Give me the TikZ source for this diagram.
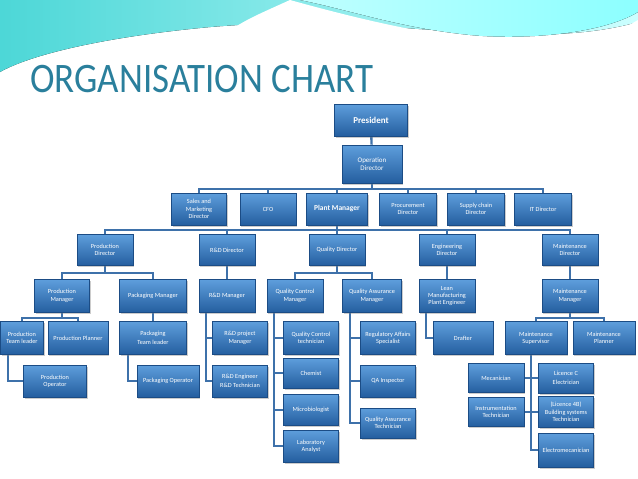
\documentclass[tikz,border=0pt]{standalone}
\usepackage{fontspec}
\usepackage{graphicx}
\setmainfont{Carlito}
\usetikzlibrary{shadows,backgrounds}
\definecolor{boxtop}{HTML}{5E9EDC}
\definecolor{boxbot}{HTML}{245E9F}
\definecolor{boxline}{HTML}{1B4C85}
\definecolor{linkc}{HTML}{3E71AA}
\definecolor{titlec}{HTML}{2A7F9C}
\tikzset{
  box/.style={draw=boxline, line width=0.8pt, top color=boxtop, bottom color=boxbot,
    text=white, align=center, inner sep=1pt, font=\fontsize{6.3}{7.3}\selectfont,
    drop shadow={shadow xshift=1pt, shadow yshift=-1.5pt, opacity=0.4}},
  link/.style={draw=linkc, line width=2.4pt}
}
\begin{document}
\begin{tikzpicture}[x=1pt,y=-1pt]
\useasboundingbox (0,0) rectangle (638,479);
% header waves
\fill[left color=cyan!55!teal!70, right color=cyan!20] (0,0) -- (638,0) -- (638,22)
  .. controls (520,55) and (380,10) .. (200,28) .. controls (100,38) and (30,55) .. (0,72) -- cycle;
\fill[white] (290,0) .. controls (380,25) and (470,45) .. (560,45) .. controls (600,42) .. (638,20) -- (638,40)
  .. controls (560,60) and (420,25) .. (230,30) .. controls (250,18) .. (290,0) -- cycle;
\fill[left color=cyan!25, right color=cyan!45] (300,0) -- (638,0) -- (638,12)
  .. controls (600,35) and (520,40) .. (470,35) .. controls (400,28) and (350,10) .. (300,0) -- cycle;
\node[text=titlec, font=\fontsize{42}{42}\selectfont, anchor=west, inner sep=0pt] (title) at (30,79) {\scalebox{0.88}[1]{ORGANISATION CHART}};
% top levels
\node[box, minimum width=73, minimum height=32, font=\fontsize{9}{10}\selectfont\bfseries] (pres) at (371,120) {President};
\node[box, minimum width=60, minimum height=38, font=\fontsize{7}{8}\selectfont] (opdir) at (372,164) {Operation\\Director};
\node[box, minimum width=55, minimum height=32] (sales) at (199,209) {Sales and\\Marketing\\Director};
\node[box, minimum width=56, minimum height=32] (cfo) at (268,209) {CFO};
\node[box, minimum width=61, minimum height=32, font=\fontsize{7.5}{8.5}\selectfont\bfseries] (plant) at (337,209) {Plant Manager};
\node[box, minimum width=57, minimum height=32] (proc) at (408,209) {Procurement\\Director};
\node[box, minimum width=57, minimum height=32] (supply) at (476,209) {Supply chain\\Director};
\node[box, minimum width=57, minimum height=32] (it) at (543,209) {IT Director};
% directors
\node[box, minimum width=56, minimum height=31] (proddir) at (105,250) {Production\\Director};
\node[box, minimum width=56, minimum height=31] (rddir) at (227,250) {R\&D Director};
\node[box, minimum width=56, minimum height=31] (qdir) at (337,250) {Quality Director};
\node[box, minimum width=56, minimum height=31] (engdir) at (447,250) {Engineering\\Director};
\node[box, minimum width=56, minimum height=31] (maintdir) at (570,250) {Maintenance\\Director};
% managers
\node[box, minimum width=55, minimum height=33] (prodmgr) at (62,296) {Production\\Manager};
\node[box, minimum width=67, minimum height=33] (packmgr) at (153,296) {Packaging Manager};
\node[box, minimum width=56, minimum height=33] (rdmgr) at (227,296) {R\&D Manager};
\node[box, minimum width=56, minimum height=33] (qcmgr) at (295,296) {Quality Control\\Manager};
\node[box, minimum width=59, minimum height=33] (qamgr) at (372,296) {Quality Assurance\\Manager};
\node[box, minimum width=56, minimum height=33] (lean) at (447,296) {Lean\\Manufacturing\\Plant Engineer};
\node[box, minimum width=56, minimum height=33] (maintmgr) at (570,296) {Maintenance\\Manager};
% third row
\node[box, minimum width=43, minimum height=33] (prodteam) at (22,338) {Production\\Team leader};
\node[box, minimum width=60, minimum height=33] (prodplan) at (78,338) {Production Planner};
\node[box, minimum width=67, minimum height=33] (packteam) at (153,338) {Packaging\\[2pt]Team leader};
\node[box, minimum width=55, minimum height=33] (rdproj) at (240,338) {R\&D project\\Manager};
\node[box, minimum width=55, minimum height=33] (qctech) at (311,338) {Quality Control\\technician};
\node[box, minimum width=55, minimum height=33] (reg) at (388,338) {Regulatory Affairs\\Specialist};
\node[box, minimum width=60, minimum height=33] (drafter) at (463,338) {Drafter};
\node[box, minimum width=62, minimum height=33] (msup) at (536,338) {Maintenance\\Supervisor};
\node[box, minimum width=62, minimum height=33] (mplan) at (604,338) {Maintenance\\Planner};
% lower rows
\node[box, minimum width=63, minimum height=32] (prodop) at (55,381) {Production\\Operator};
\node[box, minimum width=62, minimum height=32] (packop) at (168,381) {Packaging Operator};
\node[box, minimum width=55, minimum height=32] (rdeng) at (240,381) {R\&D Engineer\\[2pt]R\&D Technician};
\node[box, minimum width=55, minimum height=30] (chem) at (311,373) {Chemist};
\node[box, minimum width=55, minimum height=31] (micro) at (311,410) {Microbiologist};
\node[box, minimum width=55, minimum height=32] (lab) at (311,446) {Laboratory\\Analyst};
\node[box, minimum width=55, minimum height=32] (qainsp) at (388,381) {QA Inspector};
\node[box, minimum width=55, minimum height=30] (qatech) at (388,423) {Quality Assurance\\Technician};
\node[box, minimum width=56, minimum height=29] (mecan) at (496,378) {Mecanician};
\node[box, minimum width=55, minimum height=30] (elecc) at (566,378) {Licence C\\[2pt]Electrician};
\node[box, minimum width=56, minimum height=29] (instr) at (496,412) {Instrumentation\\Technician};
\node[box, minimum width=55, minimum height=31] (build) at (566,412) {(Licence 4B)\\Building systems\\Technician};
\node[box, minimum width=55, minimum height=34] (electro) at (566,450) {Electromecanician};
% connectors
\begin{scope}[on background layer]
\draw[link] (pres) -- (opdir);
\coordinate (busa) at (0,189);
\draw[link] (sales.north) |- (busa -| it.north) -- (it.north);
\foreach \n in {cfo,plant,proc,supply} \draw[link] (\n.north) -- (\n.north |- busa);
\draw[link] (opdir) -- (opdir |- busa);
\coordinate (busb) at (0,230);
\draw[link] (proddir.north) |- (busb -| maintdir.north) -- (maintdir.north);
\foreach \n in {rddir,qdir,engdir} \draw[link] (\n.north) -- (\n.north |- busb);
\draw[link] (plant) -- (plant |- busb);
\coordinate (busc) at (0,273);
\draw[link] (prodmgr.north) |- (busc -| packmgr.north) -- (packmgr.north);
\draw[link] (proddir) -- (proddir |- busc);
\draw[link] (qcmgr.north) |- (busc -| qamgr.north) -- (qamgr.north);
\draw[link] (qdir) -- (qdir |- busc);
\draw[link] (rddir) -- (rdmgr);
\draw[link] (engdir) -- (lean);
\draw[link] (maintdir) -- (maintmgr);
\coordinate (busd) at (0,318);
\draw[link] (prodteam.north) |- (busd -| prodplan.north) -- (prodplan.north);
\draw[link] (prodmgr) -- (prodmgr |- busd);
\draw[link] (msup.north) |- (busd -| mplan.north) -- (mplan.north);
\draw[link] (maintmgr) -- (maintmgr |- busd);
\draw[link] (packmgr) -- (packteam);
% spines
\coordinate (sa) at (8,0);
\draw[link] (sa |- prodteam.south) |- (prodop.west);
\coordinate (sb) at (128,0);
\draw[link] (sb |- packteam.south) |- (packop.west);
\coordinate (sc) at (206,0);
\draw[link] (sc |- rdmgr.south) |- (rdeng.west);
\draw[link] (sc |- rdproj.west) -- (rdproj.west);
\coordinate (sd) at (274,0);
\draw[link] (sd |- qcmgr.south) |- (lab.west);
\foreach \n in {qctech,chem,micro} \draw[link] (sd |- \n.west) -- (\n.west);
\coordinate (se) at (350,0);
\draw[link] (se |- qamgr.south) |- (qatech.west);
\foreach \n in {reg,qainsp} \draw[link] (se |- \n.west) -- (\n.west);
\coordinate (sf) at (426,0);
\draw[link] (sf |- lean.south) |- (drafter.west);
\coordinate (sg) at (531,0);
\draw[link] (sg |- msup.south) |- (electro.west);
\foreach \n in {elecc,build} \draw[link] (sg |- \n.west) -- (\n.west);
\foreach \n in {mecan,instr} \draw[link] (sg |- \n.east) -- (\n.east);
\end{scope}
\end{tikzpicture}
\end{document}
